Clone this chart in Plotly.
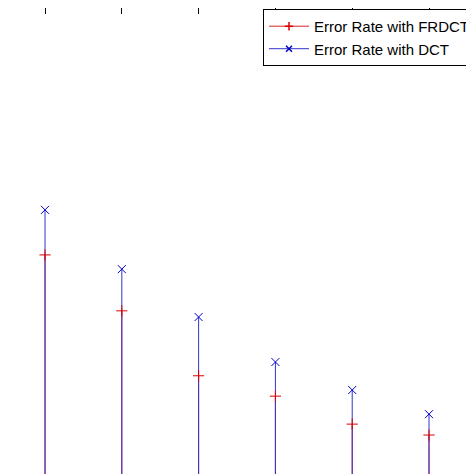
import plotly.graph_objects as go

positions = [1, 2, 3, 4, 5, 6]
err_frdct = [4.96, 3.78, 2.41, 1.98, 1.39, 1.16]
err_dct = [5.91, 4.66, 3.65, 2.70, 2.11, 1.60]

def stems(xs, ys):
    sx, sy = [], []
    for x, y in zip(xs, ys):
        sx += [x, x, None]
        sy += [0, y, None]
    return sx, sy

fig = go.Figure()
series = [("Error Rate with FRDCT", err_frdct, "#d62728", "#dd0000", "cross-thin-open"),
          ("Error Rate with DCT", err_dct, "#3333cc", "#0000cc", "x-thin-open")]
for name, vals, lc, mc, sym in series:
    sx, sy = stems(positions, vals)
    fig.add_trace(go.Scatter(x=sx, y=sy, mode="lines", line=dict(color=lc, width=1),
                             showlegend=False, hoverinfo="skip"))
for name, vals, lc, mc, sym in series:
    fig.add_trace(go.Scatter(x=positions, y=vals, mode="markers", showlegend=False,
                             marker=dict(symbol=sym, size=8, color=mc, line=dict(color=mc, width=1))))
    fig.add_trace(go.Scatter(x=[None], y=[None], mode="lines+markers", name=name,
                             line=dict(color=lc, width=1),
                             marker=dict(symbol=sym, size=6, color=mc, line=dict(color=mc, width=1.5))))

fig.update_layout(
    width=474, height=474, margin=dict(l=0, r=0, t=0, b=0),
    paper_bgcolor="white", plot_bgcolor="white",
    font=dict(family="Liberation Sans, Arial", size=14, color="black"),
    xaxis=dict(range=[0.518, 6.690], side="top", tickvals=positions, ticks="inside",
               ticklen=6, tickcolor="black", showticklabels=False, showgrid=False,
               zeroline=False, showline=False),
    yaxis=dict(range=[0.169, 10.169], showticklabels=False, showgrid=False, zeroline=False, ticks=""),
    legend=dict(x=0.538, y=0.998, xanchor="left", yanchor="top", bgcolor="white",
                bordercolor="black", borderwidth=1, tracegroupgap=0,
                font=dict(size=15), itemwidth=40),
)
fig.write_html("out.html")
